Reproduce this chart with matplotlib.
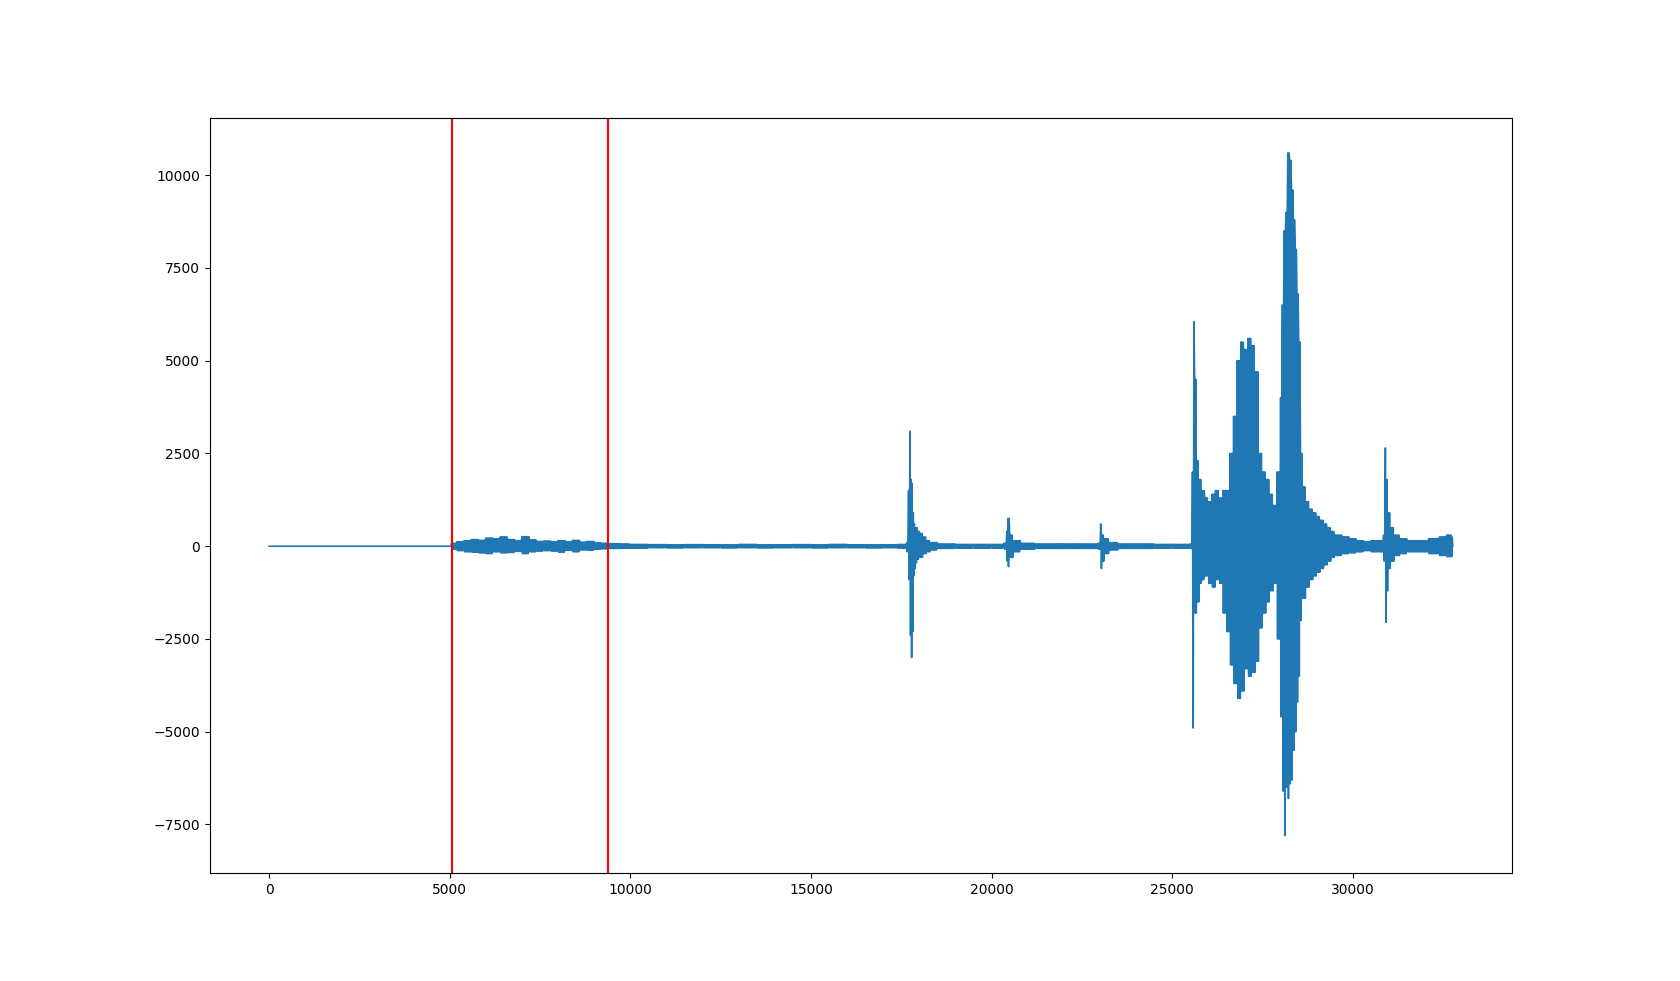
import matplotlib
matplotlib.use("Agg")
import matplotlib.pyplot as plt

# Envelope readings of the waveform: sample position, upper peak, lower peak
env_x = [0, 4990, 5050, 5200, 5400, 5600, 5800, 6000, 6200, 6400, 6600, 6800, 7000, 7200, 7400, 7600, 7800, 8000, 8200, 8400, 8600, 8800, 9000, 9200, 9400,
         9700, 10000, 10500, 11000, 11500, 12000, 12500, 13000, 13500, 14000, 14500, 15000, 15500, 16000, 16500, 17000, 17400, 17650,
         17700, 17740, 17770, 17800, 17830, 17860, 17900, 17950, 18000, 18100, 18200, 18300, 18500, 19000, 19500, 20000, 20350,
         20420, 20450, 20500, 20600, 20800, 21200, 21800, 22400, 22950, 23020, 23060, 23120, 23250, 23500, 24000, 24500, 25000, 25500,
         25560, 25600, 25620, 25680, 25750, 25820, 25900, 26000, 26100, 26200, 26300, 26400, 26500, 26600, 26700, 26800, 26900, 27000,
         27100, 27200, 27300, 27400, 27500, 27600, 27700, 27800, 27900, 28000, 28050, 28100, 28150, 28200, 28250, 28300, 28350, 28400,
         28450, 28500, 28550, 28600, 28700, 28800, 28900, 29000, 29100, 29200, 29300, 29400, 29500, 29700, 29900, 30100, 30300, 30500,
         30700, 30850, 30900, 30940, 30980, 31050, 31150, 31300, 31500, 31800, 32100, 32400, 32600, 32750]
env_hi = [0, 0, 80, 120, 150, 180, 160, 220, 200, 250, 180, 150, 260, 170, 130, 140, 120, 150, 120, 160, 110, 130, 90, 80, 70,
          60, 50, 45, 40, 45, 40, 40, 50, 40, 40, 45, 40, 50, 40, 40, 40, 50, 100,
          1500, 3100, 1800, 1700, 900, 600, 500, 400, 350, 250, 150, 100, 60, 50, 50, 50, 80,
          400, 750, 300, 150, 80, 60, 60, 60, 80, 600, 300, 200, 100, 60, 60, 50, 50, 60,
          2000, 6050, 4500, 2300, 1800, 1500, 1300, 1200, 1400, 1500, 1300, 1500, 1500, 2500, 3500, 5000, 5500, 5300,
          5600, 5400, 4700, 2500, 2000, 1800, 1400, 1100, 2000, 4000, 6500, 8500, 9000, 10600, 10400, 9600, 8800, 8000,
          6800, 5500, 2500, 1600, 1200, 1000, 900, 800, 700, 600, 500, 400, 300, 250, 200, 150, 120, 150,
          150, 300, 2650, 1800, 900, 500, 300, 200, 150, 150, 200, 250, 300, 250]
env_lo = [0, 0, -80, -120, -150, -160, -180, -200, -150, -180, -170, -140, -200, -150, -130, -120, -130, -160, -110, -150, -100, -110, -80, -70, -60,
          -50, -50, -40, -45, -40, -40, -45, -40, -45, -40, -40, -45, -40, -40, -45, -40, -50, -150,
          -900, -2400, -3000, -2300, -800, -600, -450, -350, -300, -200, -150, -100, -60, -50, -50, -50, -80,
          -400, -550, -300, -150, -80, -60, -60, -60, -80, -600, -400, -200, -100, -60, -60, -50, -50, -60,
          -4900, -2500, -1800, -1500, -1000, -900, -800, -1000, -1100, -900, -1000, -1800, -2300, -3200, -3700, -4100, -3900, -3300,
          -3500, -3400, -3100, -2200, -1800, -1500, -1200, -1000, -2500, -4600, -6600, -7800, -6500, -6800, -6400, -6300, -5500, -5000,
          -4200, -3500, -2000, -1400, -1100, -900, -800, -700, -600, -500, -400, -300, -250, -200, -180, -150, -120, -150,
          -150, -400, -2050, -1200, -600, -400, -250, -200, -150, -150, -200, -250, -280, -250]
marker_x = [5070, 9370]

xs, ys = [], []
for i in range(len(env_x)):
    if i + 1 < len(env_x):
        step = env_x[i + 1] - env_x[i]
        n = max(1, int(step / 15))
    else:
        n = 1
        step = 0
    for k in range(n):
        xx = env_x[i] + step * k / n
        xs.append(xx)
        ys.append(env_hi[i] if (k % 2 == 0) else env_lo[i])
xs.append(32767); ys.append(0)

fig = plt.figure(figsize=(16.8, 9.81), dpi=100)
ax = fig.add_subplot(111)
ax.plot(xs, ys, color='#1f77b4', linewidth=1.2)
for m in marker_x:
    ax.axvline(m, color='red', linewidth=1.5)
ax.set_ylim(-8810, 11550)
fig.savefig("out.png", dpi=100)
